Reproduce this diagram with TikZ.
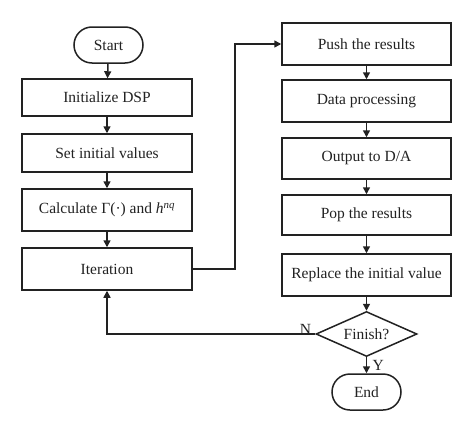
\documentclass[tikz,border=0pt]{standalone}
\usepackage{fontspec}
\setmainfont{Liberation Serif}
\usetikzlibrary{shapes.geometric,shapes.misc,arrows.meta}
\definecolor{ink}{HTML}{222222}
\begin{document}
\begin{tikzpicture}[x=1pt,y=-1pt,
  every node/.style={font=\fontsize{15.5}{18}\selectfont, text=ink},
  box/.style={draw=ink, line width=1.5pt, rectangle, inner sep=2pt},
  lbox/.style={box, minimum width=170pt},
  rbox/.style={box, minimum width=169pt},
  term/.style={draw=ink, line width=1.5pt, rounded rectangle, minimum width=73pt, minimum height=36pt, inner sep=2pt},
  dec/.style={draw=ink, line width=1.5pt, diamond, aspect=2.24, minimum width=101pt, minimum height=45pt, inner sep=1pt},
  conn/.style={draw=ink, line width=1.5pt},
  arr/.style={conn, -{Triangle[length=7pt,width=7pt]}}
]
\useasboundingbox[fill=white] (0,0) rectangle (474,434);
\node[term] (start) at (108.5,45) {Start};
\node[lbox, minimum height=37pt] (init) at (107,97.5) {Initialize DSP};
\node[lbox, minimum height=38pt] (set) at (107,153) {Set initial values};
\node[lbox, minimum height=42pt] (calc) at (107,210) {Calculate Γ(·) and \textit{h}\textsuperscript{\textit{nq}}};
\node[lbox, minimum height=42pt] (iter) at (107,269) {Iteration};
\node[rbox, minimum height=42pt] (push) at (366.5,44) {Push the results};
\node[rbox, minimum height=42pt] (data) at (366.5,101) {Data processing};
\node[rbox, minimum height=41pt] (out) at (366.5,158.5) {Output to D/A};
\node[rbox, minimum height=40pt] (pop) at (366.5,215) {Pop the results};
\node[rbox, minimum height=42pt] (repl) at (366.5,275) {Replace the initial value};
\node[dec] (fin) at (366.5,334) {Finish?};
\node[term] (end) at (366.5,392) {End};
\coordinate (turn) at (235,269);
\draw[arr] (start) -- (init);
\draw[arr] (init) -- (set);
\draw[arr] (set) -- (calc);
\draw[arr] (calc) -- (iter);
\draw[arr] (iter.east) -- (turn) |- (push.west);
\draw[arr] (push) -- (data);
\draw[arr] (data) -- (out);
\draw[arr] (out) -- (pop);
\draw[arr] (pop) -- (repl);
\draw[arr] (repl) -- (fin);
\draw[arr] (fin) -- (end) node[pos=0.5, right=2pt] {Y};
\draw[arr] (fin.west) -| (iter.south);
\node[anchor=south east, inner sep=1pt] (nlab) at ([xshift=-3pt,yshift=-2pt]fin.west) {N};
\end{tikzpicture}
\end{document}
